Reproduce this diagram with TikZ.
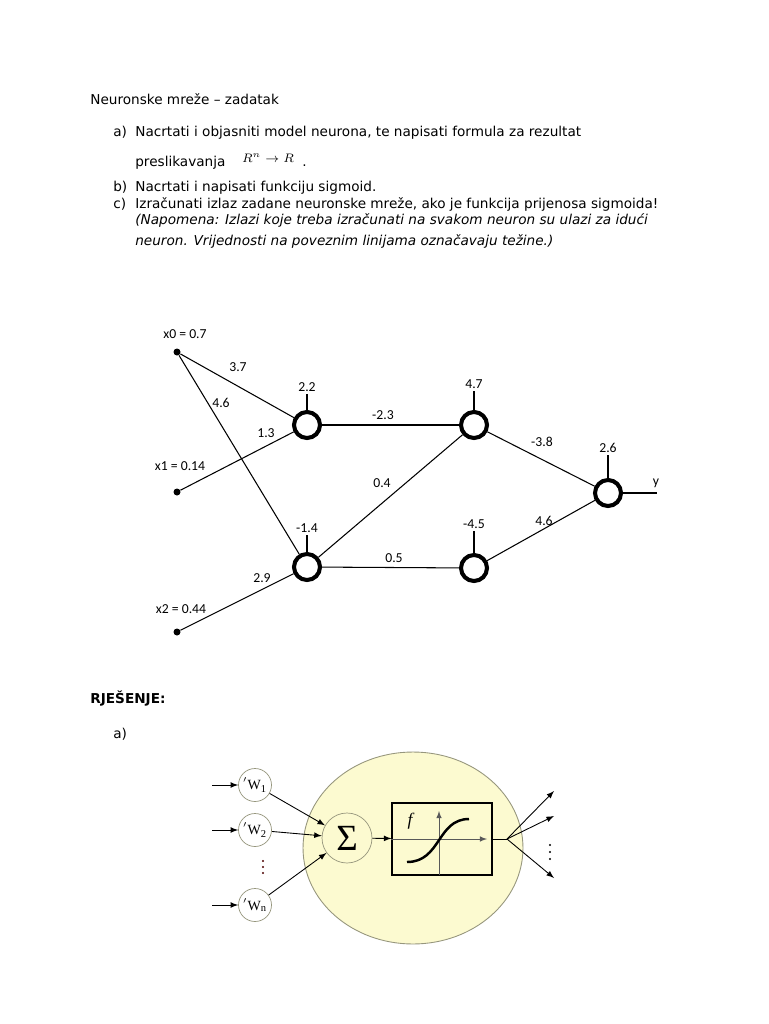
\documentclass[tikz,border=0pt]{standalone}
\usepackage{amsmath}
\usepackage{fontspec}
\setmainfont{DejaVu Sans}
\newfontfamily\labfont{Carlito}
\newfontfamily\serfont{Liberation Serif}
\definecolor{cellyellow}{RGB}{252,250,208}
\definecolor{rimgray}{RGB}{150,150,125}

\tikzset{
  txt/.style={anchor=base west, inner sep=0pt, font=\fontsize{7.75}{10}\selectfont},
  lab/.style={inner sep=1pt, font=\labfont\fontsize{7.8}{9}\selectfont},
  neuron/.style={circle, draw, line width=2.3pt, minimum size=0.52cm, inner sep=0pt},
  inpdot/.style={circle, fill, minimum size=0.14cm, inner sep=0pt},
  wcirc/.style={circle, draw=rimgray, fill=white, minimum size=0.66cm, inner sep=0pt,
    font=\serfont\fontsize{8}{9}\selectfont},
  arr/.style={-latex, line width=0.5pt}
}

\begin{document}
\begin{tikzpicture}[x=0.02cm, y=-0.02cm]
  \useasboundingbox (0,0) rectangle (768,1024);

  % Draw the task text
  \node[txt] (title) at (90,105) {Neuronske mreže – zadatak};
  \node[txt] at (113,136) {a)};
  \node[txt] at (135,136) {Nacrtati i objasniti model neurona, te napisati formula za rezultat};
  \node[txt] at (135,166) {preslikavanja};
  \node[inner sep=0pt, font=\fontsize{7.5}{9}\selectfont] (map) at (268,158) {$R^{n}\rightarrow R$};
  \node[txt] at (302,166) {.};
  \node[txt] at (113,191) {b)};
  \node[txt] at (135,191) {Nacrtati i napisati funkciju sigmoid.};
  \node[txt] at (113,208) {c)};
  \node[txt] at (135,208) {Izračunati izlaz zadane neuronske mreže, ako je funkcija prijenosa sigmoida!};
  \node[txt] at (135,224) {\itshape (Napomena: Izlazi koje treba izračunati na svakom neuron su ulazi za idući};
  \node[txt] at (135,245) {\itshape neuron. Vrijednosti na poveznim linijama označavaju težine.)};

  % Draw the network
  \node[inpdot] (x0) at (177,352) {};
  \node[inpdot] (x1) at (177,492) {};
  \node[inpdot] (x2) at (177,632) {};
  \node[neuron] (h1) at (307,425) {};
  \node[neuron] (h2) at (307,567) {};
  \node[neuron] (h3) at (474,425) {};
  \node[neuron] (h4) at (474,568) {};
  \node[neuron] (out) at (608,493) {};
  \coordinate (yend) at (657,493);

  \draw[line width=0.6pt] (x0) -- (h1);
  \draw[line width=0.6pt] (x0) -- (h2);
  \draw[line width=0.6pt] (x1) -- (h1);
  \draw[line width=0.6pt] (x2) -- (h2);
  \draw[line width=0.6pt] (h1) -- (h3);
  \draw[line width=0.6pt] (h2) -- (h3);
  \draw[line width=0.6pt] (h2) -- (h4);
  \draw[line width=0.6pt] (h3) -- (out);
  \draw[line width=0.6pt] (h4) -- (out);
  \draw[line width=0.6pt] (out) -- (yend);

  % bias ticks
  \draw[line width=0.6pt] (h1.north) -- ++(0,-16) node[lab, above] {2.2};
  \draw[line width=0.6pt] (h2.north) -- ++(0,-17) node[lab, above] {-1.4};
  \draw[line width=0.6pt] (h3.north) -- ++(0,-19) node[lab, above] {4.7};
  \draw[line width=0.6pt] (h4.north) -- ++(0,-22) node[lab, above] {-4.5};
  \draw[line width=0.6pt] (out.north) -- ++(0,-23) node[lab, above] {2.6};

  \node[lab] at (185,334) {x0 = 0.7};
  \node[lab] at (180,466) {x1 = 0.14};
  \node[lab] at (181,609) {x2 = 0.44};
  \node[lab] at (238,367) {3.7};
  \node[lab] at (221,403) {4.6};
  \node[lab] at (266,433) {1.3};
  \node[lab] at (262,578) {2.9};
  \node[lab] at (383,415) {-2.3};
  \node[lab] at (382,483) {0.4};
  \node[lab] at (394,558) {0.5};
  \node[lab] at (542,442) {-3.8};
  \node[lab] at (544,521) {4.6};
  \node[lab] at (656,483) {y};

  % Draw the solution heading
  \node[txt, font=\bfseries\fontsize{7.75}{10}\selectfont] at (90,703) {RJEŠENJE:};
  \node[txt] at (113,738) {a)};

  % Draw the neuron model
  \draw[draw=rimgray, fill=cellyellow, line width=0.5pt] (413,848) ellipse [x radius=2.2cm, y radius=1.92cm];
  \node[wcirc] (w1) at (255,785) {\raisebox{2pt}{\tiny$'$}W\textsubscript{1}};
  \node[wcirc] (w2) at (255,830) {\raisebox{2pt}{\tiny$'$}W\textsubscript{2}};
  \node[wcirc] (wn) at (255,905) {\raisebox{2pt}{\tiny$'$}W\textsubscript{n}};
  \coordinate (in1) at (212,785);
  \coordinate (in2) at (212,830);
  \coordinate (inn) at (212,905);
  \draw[arr] (in1) -- (w1);
  \draw[arr] (in2) -- (w2);
  \draw[arr] (inn) -- (wn);
  % vertical dots
  \foreach \y in {861,867,873}{
    \fill[black!70!red] (263,\y) circle (0.6pt);
  }

  \node[circle, draw=rimgray, minimum size=1.0cm, inner sep=0pt, font=\serfont\fontsize{21}{21}\selectfont] (sum) at (347,838) {Σ};
  \draw[arr] (w1) -- (sum);
  \draw[arr] (w2) -- (sum);
  \draw[arr] (wn) -- (sum);

  \node[draw, line width=0.6pt, minimum width=2.0cm, minimum height=1.44cm, inner sep=0pt] (fbox) at (442,839) {};
  \draw[arr] (sum) -- (fbox);
  \draw[-latex, line width=0.4pt, gray!70!black] (fbox.west) -- (487,839);
  \draw[-latex, line width=0.4pt, gray!70!black] (439,875) -- (439,811);
  \draw[line width=1.4pt] (407,862) .. controls (441,862) and (437,819) .. (469,819);
  \node[font=\serfont\itshape\fontsize{10}{10}\selectfont] at (410,821) {f};

  \coordinate (split) at (507,839);
  \coordinate (o1) at (554,791);
  \coordinate (o2) at (554,816);
  \coordinate (o3) at (554,878);
  \draw[line width=0.5pt] (fbox.east) -- (split);
  \draw[arr] (split) -- (o1);
  \draw[arr] (split) -- (o2);
  \draw[arr] (split) -- (o3);
  \foreach \y in {845,852,859}{
    \fill (550,\y) circle (0.6pt);
  }
\end{tikzpicture}
\end{document}
